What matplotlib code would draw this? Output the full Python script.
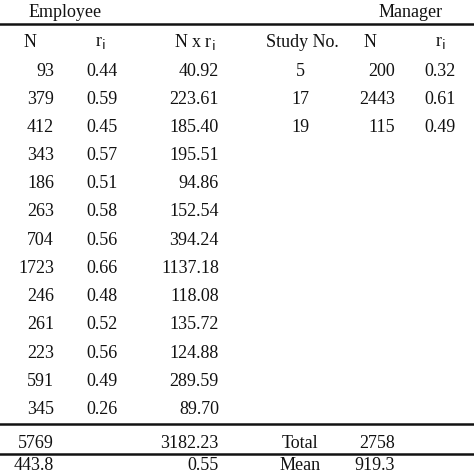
import matplotlib
matplotlib.use("Agg")
import matplotlib.pyplot as plt

emp_n = ["93","379","412","343","186","263","704","1723","246","261","223","591","345"]
emp_r = ["0.44","0.59","0.45","0.57","0.51","0.58","0.56","0.66","0.48","0.52","0.56","0.49","0.26"]
emp_nr = ["40.92","223.61","185.40","195.51","94.86","152.54","394.24","1137.18","118.08","135.72","124.88","289.59","89.70"]
study = ["5","17","19"]
man_n = ["200","2443","115"]
man_r = ["0.32","0.61","0.49"]
totals = ["5769","3182.23","Total","2758"]
means = ["443.8","0.55","Mean","919.3"]

W = H = 474
fig = plt.figure(figsize=(4.74, 4.74), dpi=100)
ax = fig.add_axes([0, 0, 1, 1])
ax.set_xlim(0, W); ax.set_ylim(H, 0); ax.axis("off")
fs = 13
kw = dict(fontfamily="Liberation Serif", fontsize=fs, va="center", color="#111")

def t(x, y, s, ha="right", **k):
    ax.text(x, y, s, ha=ha, **kw, **k)

t(65, 12, "Employee", ha="center")
t(411, 12, "Manager", ha="center")
ax.plot([0, W], [24, 24], color="#111", lw=1.8)
t(30, 42, "N", ha="center")
t(100, 42, r"r$_{\rm i}$", ha="center")
t(195, 42, r"N x r$_{\rm i}$", ha="center")
t(302, 42, "Study No.", ha="center")
t(370, 42, "N", ha="center")
t(440, 42, r"r$_{\rm i}$", ha="center")

y0, dy = 71, 28.2
for i in range(len(emp_n)):
    y = y0 + i * dy
    t(54, y, emp_n[i]); t(118, y, emp_r[i]); t(219, y, emp_nr[i])
for i in range(len(study)):
    y = y0 + i * dy
    t(300, y, study[i], ha="center"); t(395, y, man_n[i]); t(456, y, man_r[i])

ax.plot([0, W], [424, 424], color="#111", lw=1.8)
y = 443
t(54, y, totals[0]); t(219, y, totals[1]); t(300, y, totals[2], ha="center"); t(395, y, totals[3])
ax.plot([0, W], [454, 454], color="#111", lw=1.8)
y = 466
t(54, y, means[0]); t(219, y, means[1]); t(300, y, means[2], ha="center"); t(395, y, means[3])

fig.savefig("out.png", dpi=100, facecolor="white")
